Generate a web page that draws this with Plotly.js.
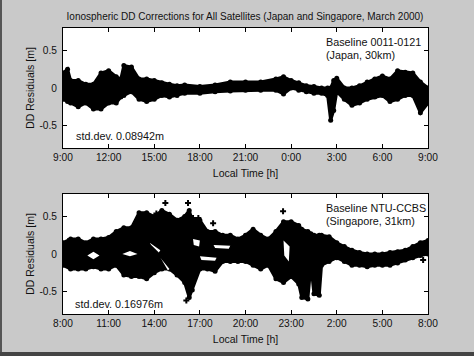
<!DOCTYPE html>
<html>
<head>
<meta charset="utf-8">
<script src="https://cdn.plot.ly/plotly-3.0.1.min.js"></script>
<style>
html,body{margin:0;padding:0;background:#c9c9c9;}
#chart{width:474px;height:356px;}
</style>
</head>
<body>
<div id="chart"></div>
<script>
// Hours since start of each 24 h window
var tickHours = [0, 3, 6, 9, 12, 15, 18, 21, 24];
var topTickLabels = ["9:00", "12:00", "15:00", "18:00", "21:00", "0:00", "3:00", "6:00", "9:00"];
var botTickLabels = ["8:00", "11:00", "14:00", "17:00", "20:00", "23:00", "2:00", "5:00", "8:00"];

// Japan baseline: envelope of the residual cloud
var topHours = [0,0.3,0.5,1,1.5,2,2.5,3,3.5,3.8,4,4.5,5,5.5,6,6.5,7,7.5,8,9,10,11,12,13,14,14.5,15,15.5,16,16.5,17,17.4,17.6,17.8,18,18.5,19,19.5,20,20.5,21,21.5,22,22.5,23,23.5,24];
var topUpper = [0.2,0.25,0.1,0.1,0.05,0.05,0.2,0.23,0.15,0.12,0.3,0.28,0.12,0.12,0.1,0.07,0.05,0.03,0.04,0.02,0.04,0.08,0.08,0.08,0.12,0.15,0.1,0.07,0.03,0.02,0.0,0.0,0.0,0.1,0.13,0.0,0.0,0.03,0.08,0.12,0.16,0.12,0.23,0.21,0.2,0.08,0.0];
var topLower = [-0.15,-0.18,-0.2,-0.25,-0.2,-0.28,-0.28,-0.2,-0.2,-0.12,-0.1,-0.05,-0.15,-0.18,-0.15,-0.1,-0.12,-0.1,-0.07,-0.07,-0.05,-0.04,-0.03,-0.03,-0.03,-0.08,0.0,-0.03,-0.05,-0.07,-0.07,-0.1,-0.43,-0.3,-0.05,-0.15,-0.23,-0.2,-0.15,-0.12,-0.1,-0.18,-0.15,-0.1,-0.1,-0.33,-0.2];

// Singapore baseline: envelope of the residual cloud
var botHours = [0,0.5,1,1.5,2,2.5,3,3.5,4,4.5,5,5.5,6,6.5,7,7.5,8,8.3,8.5,9,9.5,10,10.5,11,11.5,12,12.5,13,13.5,14,14.5,15,15.5,15.7,16.1,16.3,16.5,16.85,17,17.5,18,18.5,19,19.5,20,20.5,21,21.5,22,22.5,23,23.5,24];
var botUpper = [0.15,0.2,0.2,0.15,0.2,0.2,0.22,0.3,0.35,0.35,0.55,0.55,0.5,0.58,0.53,0.45,0.5,0.58,0.45,0.45,0.3,0.3,0.25,0.25,0.2,0.25,0.33,0.25,0.2,0.3,0.43,0.43,0.38,0.33,0.3,0.27,0.25,0.25,0.25,0.23,0.15,0.1,0.05,0.02,0.0,0.0,0.0,0.02,0.03,0.05,0.1,0.15,0.18];
var botLower = [-0.15,-0.2,-0.2,-0.2,-0.17,-0.2,-0.2,-0.15,-0.28,-0.3,-0.3,-0.33,-0.25,-0.2,-0.2,-0.28,-0.38,-0.58,-0.48,-0.2,-0.2,-0.23,-0.1,-0.1,-0.1,-0.1,-0.15,-0.2,-0.15,-0.33,-0.38,-0.3,-0.4,-0.58,-0.6,-0.15,-0.53,-0.55,-0.15,-0.1,-0.05,-0.1,-0.15,-0.15,-0.17,-0.15,-0.15,-0.15,-0.12,-0.08,-0.05,-0.02,0.0];

// White gaps between satellite tracks inside the Singapore cloud (polygons, null-separated)
var botGapHours = [1.6,2.0,2.4,2.0,null, 3.9,4.4,4.9,4.4,null, 5.7,6.4,6.3,5.8,null, 6.4,7.0,6.9,6.5,null, 9.0,10.1,10.0,9.1,null, 9.9,11.0,10.9,10.0,null, 8.55,9.0,8.95,8.6,null, 14.5,14.9,14.85,14.55];
var botGapVals  = [-0.02,0.03,-0.02,-0.07,null, 0.0,0.04,0.0,-0.03,null, 0.15,0.05,0.02,0.12,null, -0.05,-0.2,-0.22,-0.08,null, -0.03,-0.05,-0.09,-0.08,null, 0.12,0.11,0.07,0.08,null, 0.2,0.18,0.1,0.12,null, 0.18,0.1,-0.1,-0.02];

// Isolated points outside the dense cloud
var botOutHours = [0.33,6.14,6.73,8.22,8.55,8.9,9.87,14.47,11.29,23.68,8.11,15.24];
var botOutVals  = [0.17,0.54,0.68,0.68,0.48,0.48,0.41,0.57,-0.08,-0.08,-0.62,0.1];

var titleText = "Ionospheric DD Corrections for All Satellites (Japan and Singapore, March 2000)";
var yTitle = "DD Residuals [m]";
var xTitle = "Local Time [h]";
var topNote = ["Baseline 0011-0121", "(Japan, 30km)", "std.dev. 0.08942m"];
var botNote = ["Baseline NTU-CCBS", "(Singapore, 31km)", "std.dev. 0.16976m"];

function band(h, up, lo, xa, ya) {
  var xs = h.concat(h.slice().reverse());
  var ys = up.concat(lo.slice().reverse());
  return {x: xs, y: ys, xaxis: xa, yaxis: ya, type: "scatter", mode: "lines+markers",
          fill: "toself", fillcolor: "#000", line: {color: "#000", width: 3},
          marker: {color: "#000", size: 5}, hoverinfo: "skip", showlegend: false};
}

var data = [
  band(topHours, topUpper, topLower, "x", "y"),
  band(botHours, botUpper, botLower, "x2", "y2"),
  {x: botGapHours, y: botGapVals, xaxis: "x2", yaxis: "y2", type: "scatter", mode: "lines",
   fill: "toself", fillcolor: "#fff", line: {width: 0, color: "#fff"}, hoverinfo: "skip", showlegend: false},
  {x: botOutHours, y: botOutVals, xaxis: "x2", yaxis: "y2", type: "scatter", mode: "markers",
   marker: {symbol: "cross", size: 5, color: "#000"}, showlegend: false}
];

var fam = "Liberation Sans, Arial, sans-serif";
var tickFont = {family: fam, size: 10.2, color: "#111"};
var axTitleFont = {family: fam, size: 10.5, color: "#111"};
var noteFont = {family: fam, size: 10.8, color: "#111"};

function xax(labels, anchor) {
  return {domain: [63/474, 428/474], range: [0, 24], tickvals: tickHours, ticktext: labels,
    ticks: "inside", ticklen: 4, tickcolor: "#000", showline: true, linecolor: "#000", linewidth: 1,
    mirror: "ticks", showgrid: false, zeroline: false, anchor: anchor, automargin: false,
    tickfont: tickFont, title: {text: xTitle, font: axTitleFont, standoff: 7}};
}
function yax(dom, anchor) {
  return {domain: dom, range: [-0.8, 0.8], tickvals: [-0.5, 0, 0.5], ticktext: ["-0.5", "0", "0.5"],
    ticks: "inside", ticklen: 4, tickcolor: "#000", showline: true, linecolor: "#000", linewidth: 1,
    mirror: "ticks", showgrid: false, zeroline: false, anchor: anchor, automargin: false,
    ticklabelstandoff: 3, tickfont: tickFont, title: {text: yTitle, font: axTitleFont, standoff: 2}};
}

var layout = {
  width: 474, height: 356,
  margin: {l: 0, r: 0, t: 0, b: 0},
  paper_bgcolor: "#c9c9c9", plot_bgcolor: "#fff",
  font: tickFont,
  title: {text: titleText, font: {family: fam, size: 10, color: "#111"}, x: 245/474, xanchor: "center", y: 1 - 16/356, yanchor: "middle"},
  xaxis: xax(topTickLabels, "y"),
  yaxis: yax([1 - 148/356, 1 - 28/356], "x"),
  xaxis2: xax(botTickLabels, "y2"),
  yaxis2: yax([1 - 314/356, 1 - 194/356], "x2"),
  annotations: [
    {xref: "paper", yref: "paper", x: 324/474, y: 1 - 42/356, text: topNote[0], showarrow: false, xanchor: "left", yanchor: "middle", font: noteFont},
    {xref: "paper", yref: "paper", x: 324/474, y: 1 - 55/356, text: topNote[1], showarrow: false, xanchor: "left", yanchor: "middle", font: noteFont},
    {xref: "paper", yref: "paper", x: 74/474, y: 1 - 136/356, text: topNote[2], showarrow: false, xanchor: "left", yanchor: "middle", font: noteFont},
    {xref: "paper", yref: "paper", x: 324/474, y: 1 - 208/356, text: botNote[0], showarrow: false, xanchor: "left", yanchor: "middle", font: noteFont},
    {xref: "paper", yref: "paper", x: 324/474, y: 1 - 221/356, text: botNote[1], showarrow: false, xanchor: "left", yanchor: "middle", font: noteFont},
    {xref: "paper", yref: "paper", x: 73/474, y: 1 - 304/356, text: botNote[2], showarrow: false, xanchor: "left", yanchor: "middle", font: noteFont}
  ],
  shapes: [
    {type: "rect", xref: "paper", yref: "paper", x0: 0, x1: 2/474, y0: 0, y1: 1, fillcolor: "#555", line: {width: 0}, layer: "above"},
    {type: "rect", xref: "paper", yref: "paper", x0: 0, x1: 1, y0: 0, y1: 4/356, fillcolor: "#444", line: {width: 0}, layer: "above"}
  ]
};

Plotly.newPlot("chart", data, layout, {staticPlot: true, displayModeBar: false});
</script>
</body>
</html>
